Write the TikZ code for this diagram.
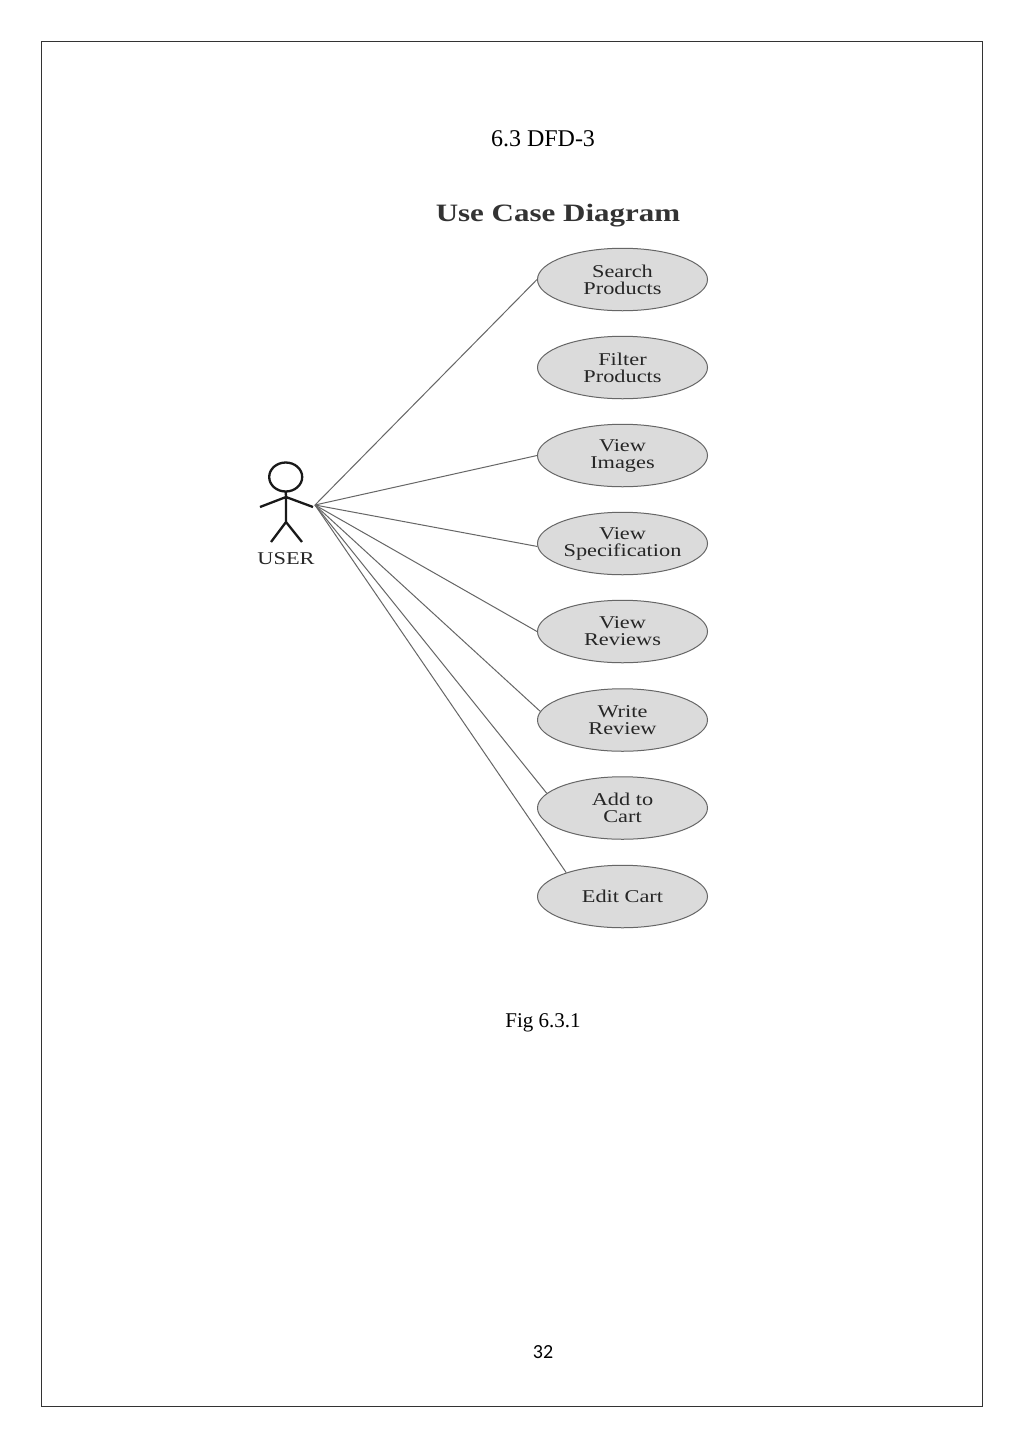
\documentclass[tikz,border=0pt]{standalone}
\usetikzlibrary{shapes.geometric}
\usepackage{fontspec}
\setmainfont{Liberation Serif}
\newfontfamily\pagefont{Carlito}
\newfontfamily\widefont[FakeStretch=1.24]{Liberation Serif}
\begin{document}
\begin{tikzpicture}[x=1pt,y=-1pt,
  usecase/.style={draw=black!60,line width=1pt,fill=black!14,ellipse,minimum width=170pt,minimum height=62.5pt,inner sep=0pt,align=center,font=\widefont\fontsize{18}{17}\selectfont,text=black!85},
  link/.style={draw=black!60,line width=1pt},
  stick/.style={draw=black!90,line width=2.3pt}]
\useasboundingbox(0,0)rectangle(1024,1449);
\fill[white](0,0)rectangle(1024,1449);
\draw[line width=.7pt,black!80](41.5,41.5)rectangle(982.5,1406.5);
\node(heading)at(543,139){\fontsize{24}{26}\selectfont 6.3 DFD-3};
\node(title)at(558,216){\widefont\fontsize{25}{27}\selectfont\bfseries\textcolor{black!80}{Use Case Diagram}};
\node[usecase](search)at(622.5,279.5){Search\\Products};
\node[usecase](filter)at(622.5,367.5){Filter\\Products};
\node[usecase](images)at(622.5,455.5){View\\Images};
\node[usecase](spec)at(622.5,543.5){View\\Specification};
\node[usecase](reviews)at(622.5,631.5){View\\Reviews};
\node[usecase](write)at(622.5,720){Write\\Review};
\node[usecase](add)at(622.5,808){Add to\\Cart};
\node[usecase](edit)at(622.5,896.5){Edit Cart};
\coordinate(hand)at(315,505);
\coordinate(neck)at(286,497);
\coordinate(hip)at(286,522);
\draw[stick](285.7,477)ellipse[x radius=16.5,y radius=14.5];
\draw[stick](285.7,491.5)--(neck)--(hip)(271,542)--(hip)--(302,542)(260,507)--(neck)--(313,507);
\node(user)at(286,558.5){\widefont\fontsize{18}{20}\selectfont\textcolor{black!85}{USER}};
\foreach\y/\a in{search/180,images/180,spec/182,reviews/180,write/174,add/169,edit/157.6}\draw[link](hand)--(\y.\a);
\node(caption)at(543,1023){\fontsize{21}{23}\selectfont Fig 6.3.1};
\node(page)at(543,1352){\pagefont\fontsize{20}{22}\selectfont 32};
\end{tikzpicture}
\end{document}
